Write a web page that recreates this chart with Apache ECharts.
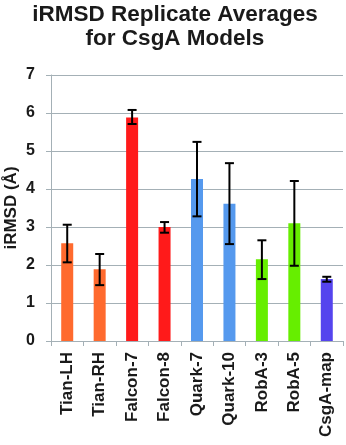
<!DOCTYPE html>
<html><head><meta charset="utf-8">
<script src="https://cdn.jsdelivr.net/npm/echarts@6/dist/echarts.min.js"></script>
<style>html,body{margin:0;padding:0;background:#fff}#c{width:346px;height:445px}</style>
</head><body><div id="c"></div>
<script>
const categories = ['Tian-LH','Tian-RH','Falcon-7','Falcon-8','Quark-7','Quark-10','RobA-3','RobA-5','CsgA-map'];
const means = [2.57, 1.89, 5.88, 3.0, 4.26, 3.61, 2.15, 3.10, 1.63];
const errHigh = [3.06, 2.29, 6.08, 3.13, 5.24, 4.68, 2.65, 4.21, 1.69];
const errLow = [2.07, 1.47, 5.71, 2.85, 3.28, 2.55, 1.63, 1.98, 1.56];
const barColors = ['#FF6A2E','#FF6A2E','#FF1A1A','#FF1A1A','#5599EE','#5599EE','#66EE00','#66EE00','#5544EE'];
const yTicks = [0,1,2,3,4,5,6,7];

const chart = echarts.init(document.getElementById('c'));
const font = 'Liberation Sans, Arial, sans-serif';
chart.setOption({
  animation: false,
  title: {
    text: 'iRMSD Replicate Averages\nfor CsgA Models',
    left: 170, top: -2, textAlign: 'center',
    textStyle: {fontFamily: font, fontWeight: 'bold', fontSize: 22.5, lineHeight: 24, color: '#1a1a1a'}
  },
  grid: {left: 51, right: 3, top: 75, bottom: 104, containLabel: false, outerBoundsMode: 'none'},
  xAxis: {
    type: 'category', data: categories,
    axisLine: {lineStyle: {color: '#A4B0B6', width: 1}},
    axisTick: {show: true, alignWithLabel: false, length: 5, lineStyle: {color: '#A4B0B6'}},
    axisLabel: {rotate: 90, fontFamily: font, fontWeight: 'bold', fontSize: 17, color: '#1a1a1a', margin: 11}
  },
  yAxis: {
    type: 'value', min: 0, max: 7, interval: 1,
    name: 'iRMSD (Å)', nameLocation: 'middle', nameGap: 31, nameMoveOverlap: false,
    nameTextStyle: {fontFamily: font, fontWeight: 'bold', fontSize: 17, color: '#1a1a1a'},
    axisLine: {show: true, lineStyle: {color: '#A4B0B6'}},
    axisTick: {show: true, length: 5, lineStyle: {color: '#A4B0B6'}},
    splitLine: {lineStyle: {color: '#A4B0B6'}},
    axisLabel: {fontFamily: font, fontWeight: 'bold', fontSize: 16, color: '#1a1a1a', margin: 16,
      formatter: v => yTicks.includes(v) ? String(v) : ''}
  },
  series: [
    {
      type: 'bar', barWidth: 12,
      data: means.map((v, i) => ({value: v, itemStyle: {color: barColors[i]}}))
    },
    {
      type: 'custom',
      data: categories.map((c, i) => [i, errLow[i], errHigh[i]]),
      encode: {x: 0, y: [1, 2]},
      z: 10,
      renderItem: function (params, api) {
        const lo = api.coord([api.value(0), api.value(1)]);
        const hi = api.coord([api.value(0), api.value(2)]);
        const hw = 4.5;
        const st = {stroke: '#000', lineWidth: 2};
        return {type: 'group', children: [
          {type: 'line', shape: {x1: hi[0], y1: hi[1], x2: lo[0], y2: lo[1]}, style: st},
          {type: 'line', shape: {x1: hi[0]-hw, y1: hi[1], x2: hi[0]+hw, y2: hi[1]}, style: st},
          {type: 'line', shape: {x1: lo[0]-hw, y1: lo[1], x2: lo[0]+hw, y2: lo[1]}, style: st}
        ]};
      }
    }
  ]
});
</script></body></html>
